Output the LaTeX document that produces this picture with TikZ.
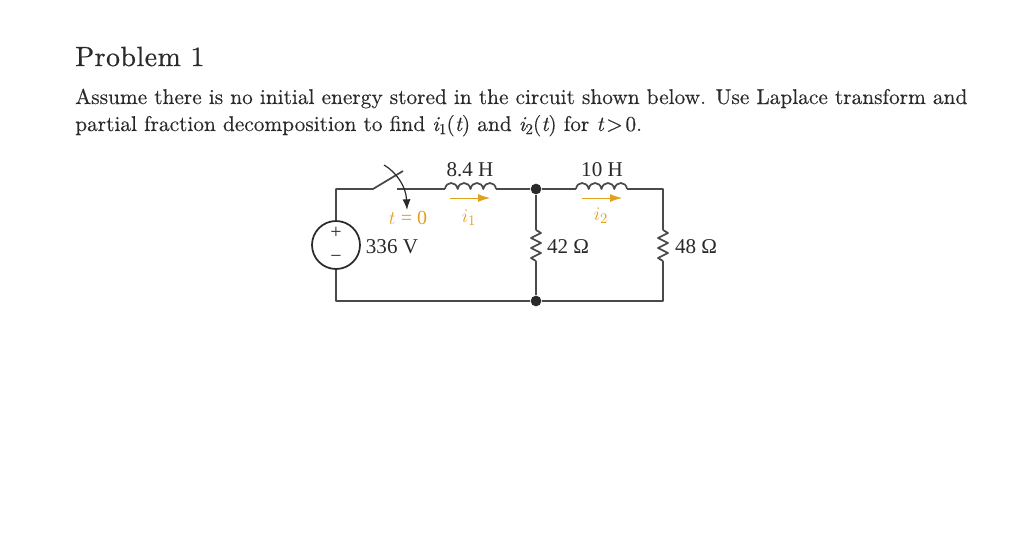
\documentclass[tikz,border=0pt]{standalone}
\usepackage{fontspec}
\newfontfamily\cirfont{Liberation Serif}
\newfontfamily\bodyfont[FakeBold=0.25]{lmroman10-regular.otf}
\newfontfamily\mifont[FakeBold=0.25]{lmroman10-italic.otf}
\newfontfamily\titlefont[FakeBold=0.6,LetterSpace=2]{lmroman10-regular.otf}
\usetikzlibrary{arrows.meta,calc}
\definecolor{wire}{HTML}{4A4A4A}
\definecolor{amber}{HTML}{E0A21E}
\definecolor{ink}{HTML}{2A2A2A}
\newcommand{\bodyi}[1]{{\mifont i}\raisebox{-2.4pt}{\fontsize{11.5pt}{12pt}\selectfont #1}}
\tikzset{
  wirestyle/.style={draw=wire,line width=1.3pt,line join=round},
  dotnode/.style={circle,fill=ink,inner sep=0pt,minimum size=8pt},
  lab/.style={font=\cirfont\fontsize{15.8pt}{18pt}\selectfont,text=ink,inner sep=0pt},
  ilab/.style={font=\cirfont\itshape\fontsize{15pt}{18pt}\selectfont,text=amber,inner sep=0pt},
  body/.style={anchor=base west,inner sep=0pt,text=ink,font=\bodyfont\fontsize{16pt}{20pt}\selectfont},
  currentarrow/.style={draw=amber,line width=0.6pt,-{Latex[length=9pt,width=6pt,fill=amber]}},
  source/.style={circle,draw=ink,line width=1.3pt,minimum size=36pt,inner sep=0pt}
}
\newcommand{\coilpath}[2]{%
  (#1,#2) .. controls (#1+1,#2-8) and (#1+11,#2-8) .. (#1+12.75,#2)
  .. controls (#1+14,#2-8) and (#1+24,#2-8) .. (#1+25.5,#2)
  .. controls (#1+27,#2-8) and (#1+37,#2-8) .. (#1+38.25,#2)
  .. controls (#1+40,#2-8) and (#1+50,#2-8) .. (#1+51,#2)}
\newcommand{\zigpath}[2]{%
  (#1,#2) -- ++(5,3) -- ++(-10,5) -- ++(10,5) -- ++(-10,5) -- ++(10,5) -- ++(-10,5) -- ++(5,3)}
\begin{document}
\begin{tikzpicture}[x=0.75pt,y=-0.75pt]
\useasboundingbox[fill=white] (0,0) rectangle (1024,536);
\node[body,font=\titlefont\fontsize{20.8pt}{24pt}\selectfont] (title) at (75,66) {Problem 1};
\node[body] (l1) at (75,104) {Assume there is no initial energy stored in the circuit shown below. Use Laplace transform and};
\node[body] (l2) at (75,131) {partial fraction decomposition to find \bodyi{1}({\mifont t}) and \bodyi{2}({\mifont t}) for {\mifont t}\kern2pt>\kern2pt0.};
% junctions
\coordinate (tl) at (336,189);
\coordinate (bl) at (336,301);
\coordinate (tr) at (663,189);
\coordinate (br) at (663,301);
\coordinate (sw1) at (373,189);
\coordinate (sw2) at (403,171);
\coordinate (sw3) at (397,189);
\coordinate (l1a) at (445,189);
\coordinate (l1b) at (496,189);
\coordinate (l2a) at (576,189);
\coordinate (l2b) at (627,189);
\coordinate (r1a) at (536,230);
\coordinate (r1b) at (536,261);
\coordinate (r2a) at (663,230);
\coordinate (r2b) at (663,261);
\node[dotnode] (jt) at (536,189) {};
\node[dotnode] (jb) at (536,301) {};
\node[source] (vs) at (336,245) {};
% wires
\draw[wirestyle] (vs.north) -- (tl) -- (sw1) -- (sw2);
\draw[wirestyle] (sw3) -- (l1a);
\draw[wirestyle] (l1b) -- (jt) -- (l2a);
\draw[wirestyle] (l2b) -- (tr) -- (r2a);
\draw[wirestyle] (r2b) -- (br) -- (jb) -- (bl) -- (vs.south);
\draw[wirestyle] (jt) -- (r1a);
\draw[wirestyle] (r1b) -- (jb);
% coils
\draw[wirestyle] \coilpath{445}{189};
\draw[wirestyle] \coilpath{576}{189};
% resistors
\draw[wirestyle] \zigpath{536}{230};
\draw[wirestyle] \zigpath{663}{230};
% switch arrow
\coordinate (ar1) at (384,165);
\coordinate (ar2) at (407,210);
\draw[draw=ink,line width=0.9pt,-{Latex[length=8pt,width=6pt]}] (ar1) .. controls (396,172) and (406,186) .. (ar2);
% source signs
\node[lab,font=\cirfont\fontsize{15pt}{16pt}\selectfont] (plus) at (336,233) {+};
\node[lab,font=\cirfont\fontsize{15pt}{16pt}\selectfont] (minus) at (336,259) {\textminus};
% labels
\node[lab] (v) at (392,247) {336 V};
\node[lab] (h1) at (470,170) {8.4 H};
\node[lab] (h2) at (602,170) {10 H};
\node[lab] (r1) at (568,247) {42 Ω};
\node[lab] (r2) at (696,247) {48 Ω};
\node[ilab] (t0) at (408,218) {$t$ {\upshape = 0}};
\node[ilab] (i1) at (469,218) {$i_1$};
\node[ilab] (i2) at (601,216) {$i_2$};
% current arrows
\coordinate (a1s) at (450,198);
\coordinate (a1e) at (490,198);
\coordinate (a2s) at (582,198);
\coordinate (a2e) at (622,198);
\draw[currentarrow] (a1s) -- (a1e);
\draw[currentarrow] (a2s) -- (a2e);
\end{tikzpicture}
\end{document}
